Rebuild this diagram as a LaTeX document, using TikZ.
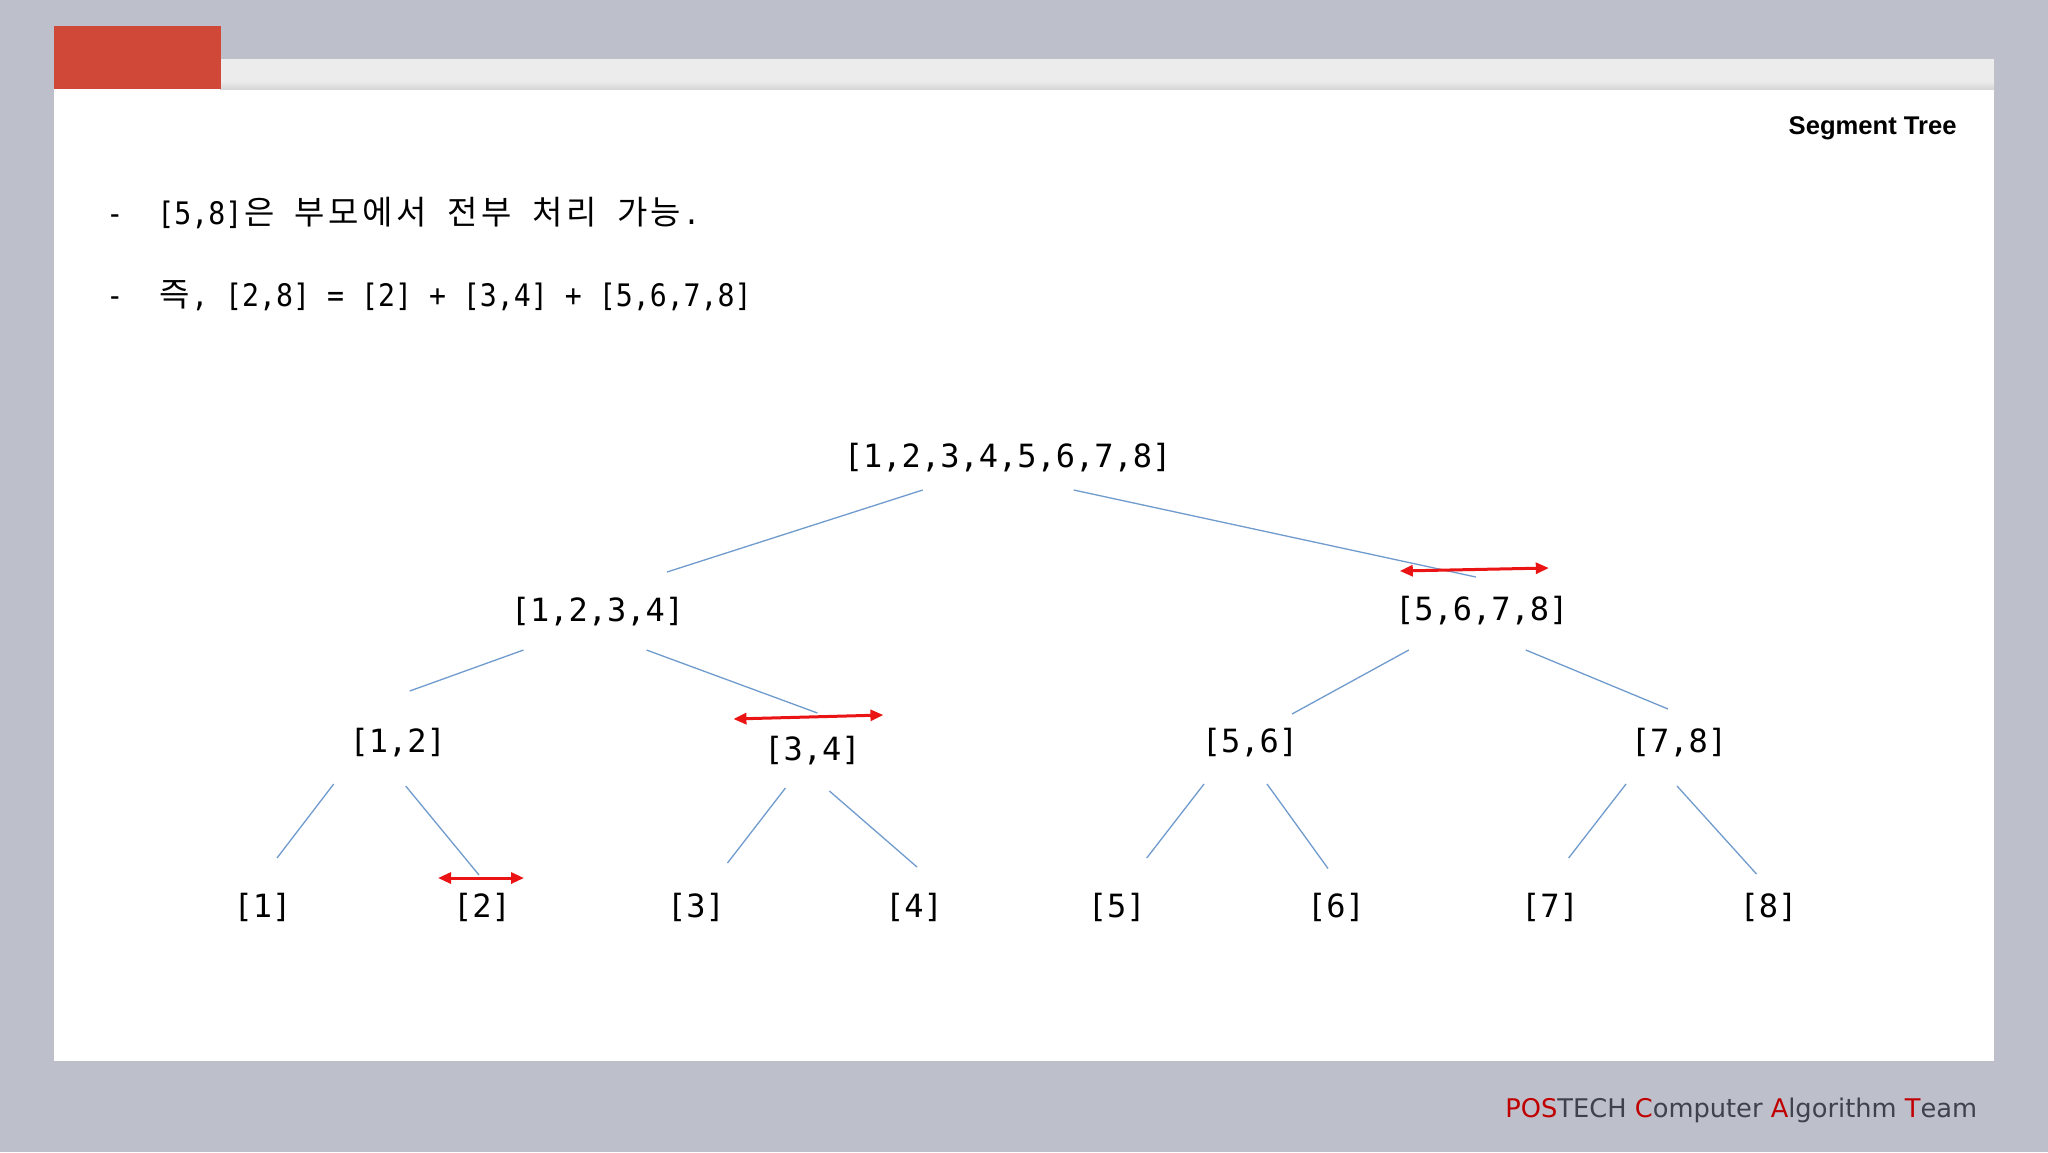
\documentclass[tikz,border=0pt]{standalone}
\usepackage{fontspec}
\usetikzlibrary{arrows.meta,calc}
\setmainfont{DejaVu Sans}
\newfontfamily\treefont{DejaVu Sans Mono}
\newfontfamily\bulletfont[FakeStretch=0.91]{DejaVu Sans Mono}
\newfontfamily\korfont{Noto Sans CJK KR}
\newfontfamily\titlefont{Liberation Sans}
\newfontfamily\footfont{DejaVu Sans}
\newcommand{\kc}[1]{\makebox[16.95pt][c]{\korfont\fontsize{16.5}{18}\selectfont #1}}
\definecolor{bgray}{RGB}{189,192,202}
\definecolor{hred}{RGB}{207,72,56}
\definecolor{barlight}{RGB}{236,236,236}
\definecolor{bardark}{RGB}{214,214,214}
\definecolor{edgeblue}{RGB}{112,155,205}
\definecolor{arrred}{RGB}{235,20,20}
\definecolor{fred}{RGB}{192,0,0}
\definecolor{fgray}{RGB}{62,66,76}
\tikzset{
  tlabel/.style={anchor=base, inner sep=0pt, font=\treefont\fontsize{16}{18}\selectfont},
  edge/.style={draw=edgeblue, line width=0.65pt},
  hilite/.style={draw=arrred, line width=1.5pt, {Triangle[length=6.5pt,width=5.5pt]}-{Triangle[length=6.5pt,width=5.5pt]}},
  bline/.style={anchor=base west, inner sep=0pt, font=\bulletfont\fontsize{15.5}{18}\selectfont}
}
\begin{document}
\begin{tikzpicture}[x=0.5pt,y=-0.5pt]
\useasboundingbox (0,0) rectangle (2048,1152);
% background
\fill[bgray] (0,0) rectangle (2048,1152);
\fill[white] (53.5,89) rectangle (1994,1061);
\fill[barlight] (220,59) rectangle (1994,89);
\shade[top color=barlight, bottom color=bardark] (220,81) rectangle (1994,89);
\fill[hred] (53.5,26) rectangle (220.7,89);
% title
\node[anchor=base east, inner sep=0pt, font=\titlefont\bfseries\fontsize{12.8}{14}\selectfont] (title) at (1957,134) {Segment Tree};
% bullets
\node[bline] (b1) at (106,224) {-\ \ [5,8]\kc{은}\ \kc{부}\kc{모}\kc{에}\kc{서}\ \kc{전}\kc{부}\ \kc{처}\kc{리}\ \kc{가}\kc{능}.};
\node[bline] (b2) at (106,306) {-\ \ \kc{즉},\ [2,8]\ =\ [2]\ +\ [3,4]\ +\ [5,6,7,8]};
% tree nodes
\node[tlabel] (root) at (1007.7,467) {[1,2,3,4,5,6,7,8]};
\node[tlabel] (n14) at (597.5,621) {[1,2,3,4]};
\node[tlabel] (n58) at (1481.8,620) {[5,6,7,8]};
\node[tlabel] (n12) at (397.7,752) {[1,2]};
\node[tlabel] (n34) at (812.4,760) {[3,4]};
\node[tlabel] (n56) at (1250,752) {[5,6]};
\node[tlabel] (n78) at (1679,752) {[7,8]};
\node[tlabel] (l1) at (262.5,917) {[1]};
\node[tlabel] (l2) at (482,917) {[2]};
\node[tlabel] (l3) at (696,917) {[3]};
\node[tlabel] (l4) at (914,917) {[4]};
\node[tlabel] (l5) at (1116.7,917) {[5]};
\node[tlabel] (l6) at (1336,917) {[6]};
\node[tlabel] (l7) at (1550,917) {[7]};
\node[tlabel] (l8) at (1768.5,917) {[8]};
% edges
\draw[edge] ($(root.base)+(-85,23)$) -- ($(n14.base)+(69.5,-49)$);
\draw[edge] ($(root.base)+(66,23)$) -- ($(n58.base)+(-6,-43)$);
\draw[edge] ($(n14.base)+(-74,29)$) -- ($(n12.base)+(12,-61)$);
\draw[edge] ($(n14.base)+(49,29)$) -- ($(n34.base)+(5,-47)$);
\draw[edge] ($(n58.base)+(-73,30)$) -- ($(n56.base)+(42,-38)$);
\draw[edge] ($(n58.base)+(44,30)$) -- ($(n78.base)+(-11,-43)$);
\draw[edge] ($(n12.base)+(-64,32)$) -- ($(l1.base)+(14.5,-59)$);
\draw[edge] ($(n12.base)+(8,34)$) -- ($(l2.base)+(-3,-42)$);
\draw[edge] ($(n34.base)+(-27,28)$) -- ($(l3.base)+(31.5,-54)$);
\draw[edge] ($(n34.base)+(17,31)$) -- ($(l4.base)+(3,-50)$);
\draw[edge] ($(n56.base)+(-46,32)$) -- ($(l5.base)+(30,-59)$);
\draw[edge] ($(n56.base)+(17,32)$) -- ($(l6.base)+(-8,-48.5)$);
\draw[edge] ($(n78.base)+(-53,32)$) -- ($(l7.base)+(18.6,-59)$);
\draw[edge] ($(n78.base)+(-2,34)$) -- ($(l8.base)+(-12,-43)$);
% highlight arrows
\draw[hilite] ($(n58.base)+(-82,-49)$) -- ($(n58.base)+(67,-52)$);
\draw[hilite] ($(n34.base)+(-79,-41)$) -- ($(n34.base)+(71,-45)$);
\draw[hilite] ($(l2.base)+(-44,-39)$) -- ($(l2.base)+(42,-39)$);
% footer
\node[anchor=base west, inner sep=0pt, font=\footfont\fontsize{12.85}{15}\selectfont] (foot) at (1505,1117)
  {\textcolor{fred}{POS}\textcolor{fgray}{TECH} \textcolor{fred}{C}\textcolor{fgray}{omputer} \textcolor{fred}{A}\textcolor{fgray}{lgorithm} \textcolor{fred}{T}\textcolor{fgray}{eam}};
\end{tikzpicture}
\end{document}
